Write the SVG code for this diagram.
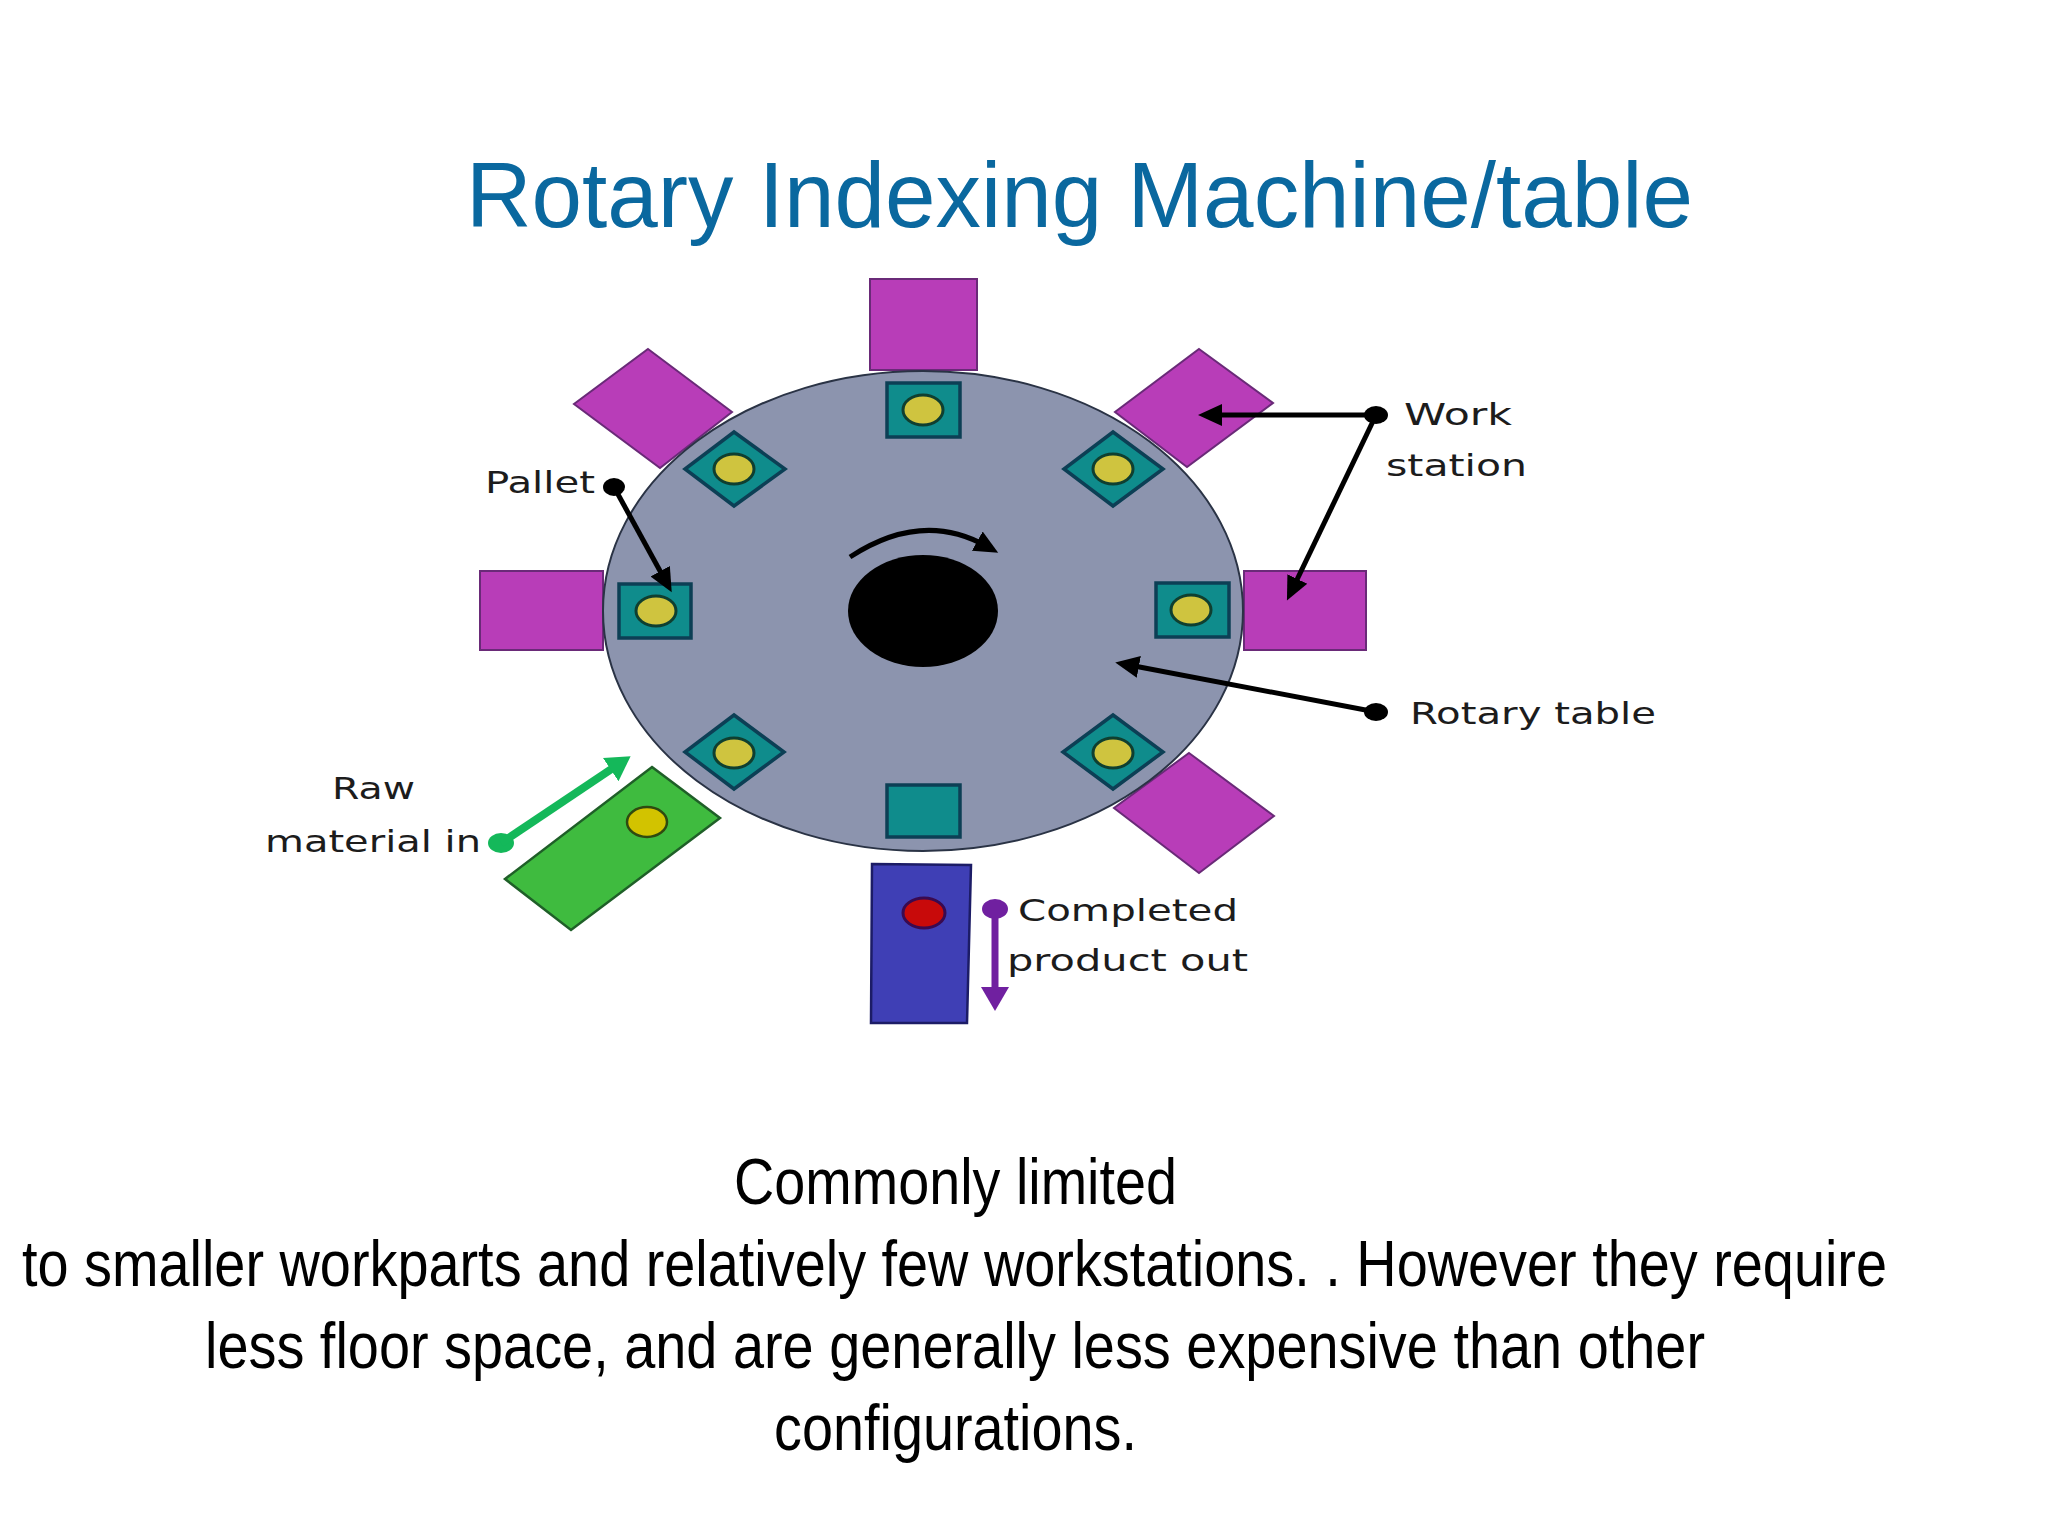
<svg xmlns="http://www.w3.org/2000/svg" width="2048" height="1536" viewBox="0 0 2048 1536">
<style>
.ws{fill:#b83db8;stroke:#6a2a78;stroke-width:2}
.pal{fill:#0f8c8c;stroke:#0c3f55;stroke-width:3.5}
.part{fill:#cfc43f;stroke:#0f3f30;stroke-width:3}
.lbl{font-family:"DejaVu Sans","Open Sans",sans-serif;font-size:31px;fill:#1c1c1c}
.title{font-family:"Liberation Sans",Arial,sans-serif;font-size:92px;fill:#0a689f}
.body{font-family:"Liberation Sans",Arial,sans-serif;font-size:65px;fill:#000}
.ln{fill:none;stroke:#000;stroke-width:5}
</style>
<defs>
<marker id="ak" markerUnits="userSpaceOnUse" markerWidth="26" markerHeight="24" refX="10" refY="12" orient="auto"><path d="M0,1 L24,12 L0,23 Z" fill="#000"/></marker>
<marker id="ag" markerUnits="userSpaceOnUse" markerWidth="26" markerHeight="30" refX="10" refY="15" orient="auto"><path d="M0,1 L24,15 L0,29 Z" fill="#14b85a"/></marker>
<marker id="ap" markerUnits="userSpaceOnUse" markerWidth="26" markerHeight="30" refX="10" refY="15" orient="auto"><path d="M0,1 L24,15 L0,29 Z" fill="#7020a0"/></marker>
</defs>
<rect width="2048" height="1536" fill="#fff"/>
<text class="title" x="466" y="227" textLength="1227" lengthAdjust="spacingAndGlyphs">Rotary Indexing Machine/table</text>
<g id="station-top"><rect class="ws" x="870" y="279" width="107" height="91"/></g>
<g id="station-left"><rect class="ws" x="480" y="571" width="123" height="79"/></g>
<g id="station-right"><rect class="ws" x="1244" y="571" width="122" height="79"/></g>
<g id="station-top-left"><polygon class="ws" points="648,349 732,412 660,468 574,404"/></g>
<g id="station-top-right"><polygon class="ws" points="1199,349 1273,403 1187,467 1115,412"/></g>
<g id="station-bottom-right"><polygon class="ws" points="1189,753 1274,816 1199,873 1114,808"/></g>
<g id="rotary-table"><ellipse cx="923" cy="611" rx="320" ry="240" fill="#8c94ae" stroke="#2a3345" stroke-width="2"/><ellipse cx="923" cy="611" rx="75" ry="56" fill="#000"/></g>
<g id="pallet-top"><rect class="pal" x="887" y="383" width="73" height="54"/><ellipse class="part" cx="923" cy="410" rx="20" ry="15"/></g>
<g id="pallet-left"><rect class="pal" x="619" y="584" width="72" height="54"/><ellipse class="part" cx="656" cy="611" rx="20" ry="15"/></g>
<g id="pallet-right"><rect class="pal" x="1156" y="583" width="73" height="54"/><ellipse class="part" cx="1191" cy="610" rx="20" ry="15"/></g>
<g id="pallet-bottom"><rect class="pal" x="887" y="785" width="73" height="52"/></g>
<g id="pallet-top-left"><polygon class="pal" points="734,432 785,469 734,506 685,469"/><ellipse class="part" cx="734" cy="469" rx="20" ry="15"/></g>
<g id="pallet-top-right"><polygon class="pal" points="1113,432 1163,469 1113,506 1064,469"/><ellipse class="part" cx="1113" cy="469" rx="20" ry="15"/></g>
<g id="pallet-bottom-left"><polygon class="pal" points="734,715 784,752 734,789 685,752"/><ellipse class="part" cx="734" cy="753" rx="20" ry="15"/></g>
<g id="pallet-bottom-right"><polygon class="pal" points="1113,715 1163,752 1113,789 1063,752"/><ellipse class="part" cx="1113" cy="753" rx="20" ry="15"/></g>
<g id="raw-conveyor"><polygon points="652,767 720,818 571,930 505,879" fill="#3fbb3f" stroke="#1f5f28" stroke-width="2.5"/><ellipse cx="647" cy="822" rx="20" ry="15" fill="#d2c300" stroke="#2f4a10" stroke-width="2.5"/></g>
<g id="out-conveyor"><polygon points="872,864 971,865 967,1023 871,1023" fill="#3f3fb5" stroke="#1c1c66" stroke-width="2.5"/><ellipse cx="924" cy="913" rx="21" ry="15" fill="#c80a0a" stroke="#3a0a50" stroke-width="3"/></g>
<g id="connectors">
<path class="ln" d="M850,557 Q922,510 986,546" marker-end="url(#ak)"/>
<ellipse cx="614" cy="487" rx="11" ry="9"/><line class="ln" x1="614" y1="487" x2="665" y2="580" marker-end="url(#ak)"/>
<ellipse cx="1376" cy="415" rx="12" ry="9"/><line class="ln" x1="1376" y1="415" x2="1212" y2="415" marker-end="url(#ak)"/>
<line class="ln" x1="1376" y1="415" x2="1293" y2="588" marker-end="url(#ak)"/>
<ellipse cx="1376" cy="712" rx="12" ry="9"/><line class="ln" x1="1376" y1="712" x2="1129" y2="665" marker-end="url(#ak)"/>
<ellipse cx="501" cy="843" rx="13" ry="10" fill="#14b85a"/><line x1="501" y1="843" x2="619" y2="764" stroke="#14b85a" stroke-width="8" marker-end="url(#ag)"/>
<ellipse cx="995" cy="909" rx="13" ry="10" fill="#7020a0"/><line x1="995" y1="909" x2="995" y2="997" stroke="#7020a0" stroke-width="7" marker-end="url(#ap)"/>
</g>
<g id="labels">
<text class="lbl" x="485" y="493" textLength="110" lengthAdjust="spacingAndGlyphs">Pallet</text>
<text class="lbl" x="1404" y="425" textLength="108" lengthAdjust="spacingAndGlyphs">Work</text>
<text class="lbl" x="1386" y="476" textLength="141" lengthAdjust="spacingAndGlyphs">station</text>
<text class="lbl" x="1410" y="724" textLength="246" lengthAdjust="spacingAndGlyphs">Rotary table</text>
<text class="lbl" x="332" y="799" textLength="83" lengthAdjust="spacingAndGlyphs">Raw</text>
<text class="lbl" x="265" y="852" textLength="216" lengthAdjust="spacingAndGlyphs">material in</text>
<text class="lbl" x="1018" y="921" textLength="220" lengthAdjust="spacingAndGlyphs">Completed</text>
<text class="lbl" x="1007" y="971" textLength="241" lengthAdjust="spacingAndGlyphs">product out</text>
</g>
<g id="caption">
<text class="body" x="734" y="1204" textLength="443" lengthAdjust="spacingAndGlyphs">Commonly limited</text>
<text class="body" x="22" y="1286" textLength="1865" lengthAdjust="spacingAndGlyphs">to smaller workparts and relatively few workstations. . However they require</text>
<text class="body" x="205" y="1368" textLength="1500" lengthAdjust="spacingAndGlyphs">less floor space, and are generally less expensive than other</text>
<text class="body" x="774" y="1450" textLength="363" lengthAdjust="spacingAndGlyphs">configurations.</text>
</g>
</svg>
